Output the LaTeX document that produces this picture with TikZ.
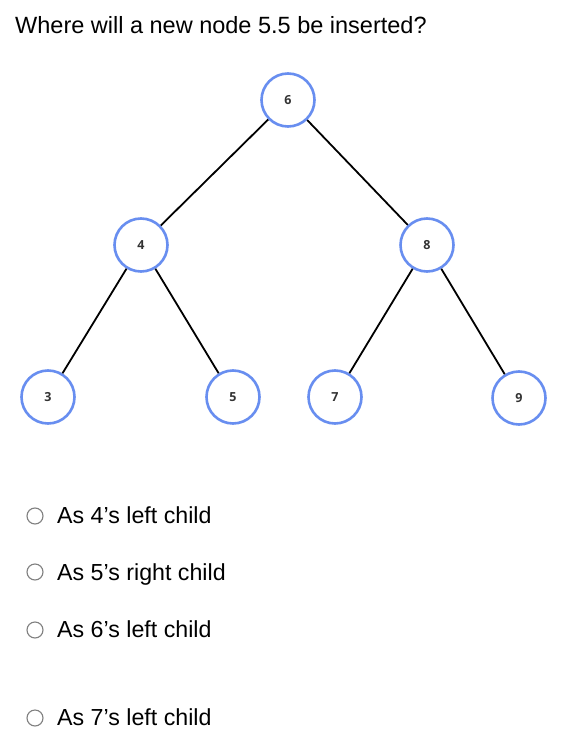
\documentclass[tikz,border=0pt]{standalone}
\usepackage{fontspec}
\setmainfont{Liberation Sans}
\newfontfamily\labelfont{Open Sans}
\definecolor{nodeblue}{RGB}{104,142,240}
\definecolor{radiogray}{RGB}{128,128,128}
\definecolor{labelgray}{RGB}{51,51,51}
\begin{document}
\begin{tikzpicture}[x=1pt,y=-1pt,
  treenode/.style={circle,draw=nodeblue,line width=2.6pt,fill=white,minimum size=53pt,inner sep=0pt,font=\labelfont\bfseries\fontsize{12.5}{14}\selectfont,text=labelgray},
  edge/.style={draw=black,line width=1.8pt},
  radio/.style={circle,draw=radiogray,line width=1.1pt,minimum size=16pt,inner sep=0pt},
  opt/.style={anchor=base west,inner sep=0pt,font=\fontsize{23.2}{27}\selectfont},
  title/.style={anchor=base west,inner sep=0pt,font=\fontsize{23.5}{28}\selectfont}]
\useasboundingbox[fill=white] (0,0) rectangle (586,754);
\node[title] (q) at (15,34) {Where will a new node 5.5 be inserted?};
\node[treenode] (n6) at (288,100) {6};
\node[treenode] (n4) at (141,245) {4};
\node[treenode] (n8) at (427,245) {8};
\node[treenode] (n3) at (48,397) {3};
\node[treenode] (n5) at (233,397) {5};
\node[treenode] (n7) at (335,397) {7};
\node[treenode] (n9) at (519,398) {9};
\draw[edge] (n6) -- (n4);
\draw[edge] (n6) -- (n8);
\draw[edge] (n4) -- (n3);
\draw[edge] (n4) -- (n5);
\draw[edge] (n8) -- (n7);
\draw[edge] (n8) -- (n9);
\node[radio] (r1) at (35,516) {};
\node[opt] (o1) at (57,523) {As 4’s left child};
\node[radio] (r2) at (35,572) {};
\node[opt] (o2) at (57,580) {As 5’s right child};
\node[radio] (r3) at (35,630) {};
\node[opt] (o3) at (57,637) {As 6’s left child};
\node[radio] (r4) at (35,718) {};
\node[opt] (o4) at (57,725) {As 7’s left child};
\end{tikzpicture}
\end{document}
